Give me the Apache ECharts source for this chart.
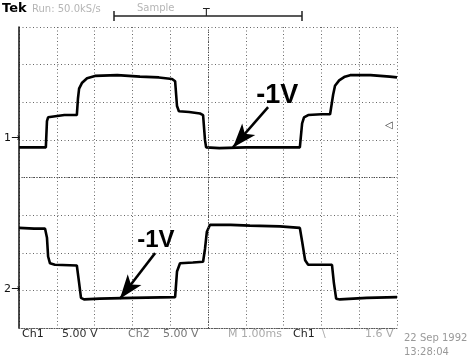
<!DOCTYPE html>
<html>
<head>
<meta charset="utf-8">
<script src="https://cdn.jsdelivr.net/npm/echarts@6/dist/echarts.min.js"></script>
<style>
  html, body { margin: 0; padding: 0; background: #fff; }
  #scope { width: 474px; height: 355px; }
</style>
</head>
<body>
<div id="scope"></div>
<script>
// time in ms (1.00 ms/div), volts (5.00 V/div)
const ch1Time = [0, 0.71, 0.74, 0.77, 0.82, 1.2, 1.53, 1.56, 1.59, 1.67, 1.8, 2.01, 2.6, 3.2, 3.7, 4.05, 4.13, 4.18, 4.23, 4.5, 4.79, 4.87, 4.92, 4.95, 5.3, 6.0, 6.8, 7.43, 7.49, 7.54, 7.65, 8.0, 8.23, 8.31, 8.36, 8.47, 8.62, 8.76, 9.3, 9.81, 10];
const ch1Volt = [-1.0, -1.0, 2.5, 3.0, 3.2, 3.3, 3.3, 5.5, 6.8, 7.6, 8.2, 8.5, 8.6, 8.4, 8.3, 8.1, 7.8, 4.5, 3.8, 3.7, 3.5, 3.3, 0, -1.0, -1.1, -1.0, -1.0, -1.0, 2.2, 3.0, 3.3, 3.4, 3.4, 6.0, 7.2, 7.9, 8.4, 8.6, 8.6, 8.4, 8.3];
const ch2Time = [0, 0.4, 0.69, 0.74, 0.77, 0.82, 0.95, 1.53, 1.59, 1.64, 1.72, 2.14, 3.0, 4.13, 4.18, 4.26, 4.6, 4.87, 4.92, 4.97, 5.05, 5.6, 6.11, 6.9, 7.43, 7.49, 7.57, 7.65, 8.28, 8.33, 8.39, 8.49, 9.2, 10];
const ch2Volt = [8.3, 8.2, 8.2, 7.0, 4.5, 3.6, 3.4, 3.3, 1.0, -1.0, -1.2, -1.1, -1.0, -0.9, 2.5, 3.6, 3.7, 3.8, 5.5, 7.8, 8.7, 8.7, 8.6, 8.5, 8.3, 6.5, 4.0, 3.4, 3.4, 1.0, -1.1, -1.2, -1.0, -0.9];
const ch1Ground = 5;   // divisions from bottom
const ch2Ground = 1;
const voltsPerDiv = 5;
const triggerLevel = 1.6;

const toDiv = (v, g) => g + v / voltsPerDiv;
const ch1Data = ch1Time.map((t, i) => [t, toDiv(ch1Volt[i], ch1Ground)]);
const ch2Data = ch2Time.map((t, i) => [t, toDiv(ch2Volt[i], ch2Ground)]);

const dots = { color: '#666', width: 1, type: [1, 2.5] };
const chart = echarts.init(document.getElementById('scope'));
const txt = (x, y, s, fill, size, weight) => ({
  type: 'text', left: x, top: y,
  style: { text: s, fill: fill, fontSize: size || 11, fontWeight: weight || 'normal', fontFamily: 'DejaVu Sans' }
});

chart.setOption({
  animation: false,
  grid: { left: 19, right: 77, top: 27, bottom: 27 },
  xAxis: {
    type: 'value', min: 0, max: 10, interval: 1,
    axisLabel: { show: false }, axisTick: { show: false },
    axisLine: { lineStyle: { color: '#555', type: [1, 1.5] } },
    splitLine: { lineStyle: dots }
  },
  yAxis: {
    type: 'value', min: 0, max: 8, interval: 1,
    axisLabel: { show: false }, axisTick: { show: false },
    axisLine: { show: true, lineStyle: { color: '#111', width: 1.5 } },
    splitLine: { lineStyle: dots }
  },
  series: [
    {
      name: 'Ch1', type: 'line', data: ch1Data, symbol: 'none',
      lineStyle: { color: '#000', width: 2.6 },
      markLine: {
        silent: true, symbol: ['none', 'none'], label: { show: false },
        lineStyle: { color: '#444', width: 1, type: [1, 1.5] },
        data: [{ xAxis: 5 }, { yAxis: 4 }]
      }
    },
    {
      name: 'Ch2', type: 'line', data: ch2Data, symbol: 'none',
      lineStyle: { color: '#000', width: 2.6 },
      markLine: {
        silent: true, symbol: ['none', 'arrow'], symbolSize: [13, 24],
        label: { show: false },
        lineStyle: { color: '#000', width: 2.5, type: 'solid' },
        itemStyle: { color: '#000' },
        data: [
          [{ coord: [6.59, 5.87] }, { coord: [5.66, toDiv(-1, ch1Ground)] }],
          [{ coord: [3.6, 1.99] }, { coord: [2.67, toDiv(-1.1, ch2Ground)] }]
        ]
      },
      markPoint: {
        silent: true, symbolSize: 0,
        label: { show: true, color: '#000', fontFamily: 'Liberation Sans', fontWeight: 'bold', position: 'inside' },
        data: [
          { coord: [6.83, 6.19], value: '-1V', label: { fontSize: 27 } },
          { coord: [3.62, 2.33], value: '-1V', label: { fontSize: 24 } }
        ]
      }
    }
  ]
});

// channel markers, trigger bar and readouts
const g1 = chart.convertToPixel({ gridIndex: 0 }, [0, ch1Ground]);
const g2 = chart.convertToPixel({ gridIndex: 0 }, [0, ch2Ground]);
const tl = chart.convertToPixel({ gridIndex: 0 }, [10, toDiv(triggerLevel, ch1Ground)]);
chart.setOption({
  graphic: [
    txt(4, g1[1] - 7, '1\u2192', '#111', 11),
    txt(4, g2[1] - 7, '2\u2192', '#111', 11),
    txt(tl[0] - 12, tl[1] - 7, '\u25C1', '#333', 10),
    txt(2, 2, 'Tek', '#000', 13, 'bold'),
    txt(32, 4, 'Run: 50.0kS/s', '#b5b5b5', 10),
    txt(137, 3, 'Sample', '#b5b5b5', 10),
    { type: 'line', shape: { x1: 114, y1: 16, x2: 302, y2: 16 }, style: { stroke: '#222', lineWidth: 1.5 } },
    { type: 'line', shape: { x1: 114, y1: 11, x2: 114, y2: 21 }, style: { stroke: '#222', lineWidth: 1.5 } },
    { type: 'line', shape: { x1: 302, y1: 11, x2: 302, y2: 21 }, style: { stroke: '#222', lineWidth: 1.5 } },
    txt(203, 8, 'T', '#222', 11),
    txt(22, 329, 'Ch1', '#222', 11),
    txt(62, 329, '5.00 V', '#333', 11),
    txt(128, 329, 'Ch2', '#777', 11),
    txt(163, 329, '5.00 V', '#777', 11),
    txt(228, 329, 'M 1.00ms', '#aaa', 11),
    txt(293, 329, 'Ch1', '#222', 11),
    txt(322, 329, '\\', '#aaa', 11),
    txt(365, 329, '1.6 V', '#aaa', 11),
    txt(404, 333, '22 Sep 1992', '#999', 10),
    txt(404, 347, '13:28:04', '#999', 10)
  ]
});
</script>
</body>
</html>
